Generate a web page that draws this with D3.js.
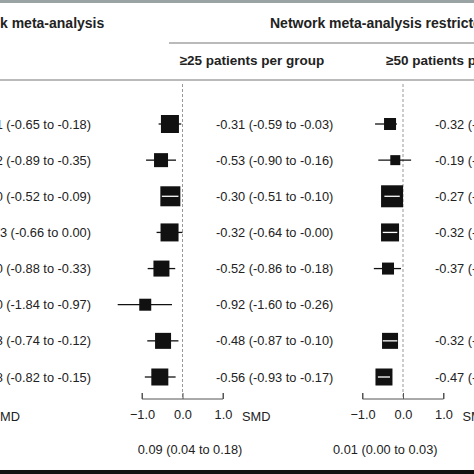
<!DOCTYPE html>
<html><head><meta charset="utf-8">
<script src="https://cdn.jsdelivr.net/npm/d3@7"></script>
<style>body{margin:0;background:#fff}text{font-family:"Liberation Sans",Arial,sans-serif;fill:#222}</style>
</head><body><svg></svg>
<script>
// data
const baseText = ["-0.41 (-0.65 to -0.18)", "-0.62 (-0.89 to -0.35)", "-0.30 (-0.52 to -0.09)", "-0.33 (-0.66 to 0.00)",
  "-0.60 (-0.88 to -0.33)", "-1.40 (-1.84 to -0.97)", "-0.43 (-0.74 to -0.12)", "-0.48 (-0.82 to -0.15)"];
const p25Est = [-0.31, -0.53, -0.30, -0.32, -0.52, -0.92, -0.48, -0.56];
const p25Lo = [-0.59, -0.90, -0.51, -0.64, -0.86, -1.60, -0.87, -0.93];
const p25Hi = [-0.03, -0.16, -0.10, -0.00, -0.18, -0.26, -0.10, -0.17];
const p25Size = [18, 14, 20, 18, 16, 12, 16, 17];
const p50Est = [-0.32, -0.19, -0.27, -0.32, -0.37, null, -0.32, -0.47];
const p50Lo = [-0.69, -0.61, -0.46, -0.50, -0.72, null, -0.50, -0.62];
const p50Hi = [-0.15, 0.20, -0.08, -0.14, -0.05, null, -0.14, -0.32];
const p50Size = [12, 10, 22, 18, 12, 0, 16, 17];
const axisTicks = [-1, 0, 1];
const tau = ["0.09 (0.04 to 0.18)", "0.01 (0.00 to 0.03)"];

const svg = d3.select("svg").attr("width", 474).attr("height", 474);
const fmt = v => (v === 0 ? "0.0" : d3.format(".1f")(v));
const fs = "12.8px";

svg.append("rect").attr("width", 474).attr("height", 3).attr("fill", "#9aa3a3");
svg.append("rect").attr("y", 470).attr("width", 474).attr("height", 4).attr("fill", "#111");

svg.append("text").attr("x", 0).attr("y", 28).style("font-weight", "bold").style("font-size", "14px").text("k meta-analysis");
svg.append("text").attr("x", 270).attr("y", 28).style("font-weight", "bold").style("font-size", "14px").text("Network meta-analysis restricted to trials");
svg.append("line").attr("x1", 169).attr("x2", 474).attr("y1", 43).attr("y2", 43).attr("stroke", "#777").attr("stroke-width", 1.2);
svg.append("line").attr("x1", 0).attr("x2", 474).attr("y1", 80).attr("y2", 80).attr("stroke", "#777").attr("stroke-width", 1.2);
svg.append("text").attr("x", 252).attr("y", 65).attr("text-anchor", "middle").style("font-weight", "bold").style("font-size", "13.5px").text("≥25 patients per group");
svg.append("text").attr("x", 386).attr("y", 65).style("font-weight", "bold").style("font-size", "13.5px").text("≥50 patients per group");

const y = d3.scaleLinear().domain([0, 7]).range([124, 377]);
const axisY = 399;

svg.selectAll(".base").data(baseText).enter().append("text")
  .attr("x", 91).attr("y", (d, i) => y(i) + 4.5).attr("text-anchor", "end").style("font-size", fs).text(d => d);
svg.append("text").attr("x", 20).attr("y", 421).attr("text-anchor", "end").style("font-size", fs).text("SMD");

function panel(x0, est, lo, hi, size, labelX, labels) {
  const x = d3.scaleLinear().domain([-1, 1]).range([x0 - 40.5, x0 + 40.5]);
  svg.append("line").attr("x1", x(0)).attr("x2", x(0)).attr("y1", 84).attr("y2", axisY)
    .attr("stroke", "#999").attr("stroke-dasharray", "3,2");
  const g = svg.append("g").attr("transform", `translate(0,${axisY})`)
    .call(d3.axisBottom(x).tickValues(axisTicks).tickSize(-6).tickFormat(fmt));
  g.select(".domain").attr("stroke", "#555").attr("d", `M${x(-1)},-6V0H${x(1)}V-6`);
  g.selectAll(".tick line").attr("stroke", "#555");
  g.selectAll(".tick text").attr("dy", "1.35em").style("font-size", fs).style("fill", "#222")
    .style("font-family", "Liberation Sans, Arial, sans-serif");
  svg.append("text").attr("x", x(1) + 19).attr("y", 421).style("font-size", fs).text("SMD");
  est.forEach((e, i) => {
    if (e === null) return;
    svg.append("line").attr("x1", x(lo[i])).attr("x2", x(hi[i])).attr("y1", y(i)).attr("y2", y(i)).attr("stroke", "#111").attr("stroke-width", 1.3);
    svg.append("rect").attr("x", x(e) - size[i] / 2).attr("y", y(i) - size[i] / 2).attr("width", size[i]).attr("height", size[i]).attr("fill", "#111");
    if (x(hi[i]) - x(lo[i]) < size[i]) {
      svg.append("line").attr("x1", x(lo[i])).attr("x2", x(hi[i])).attr("y1", y(i)).attr("y2", y(i)).attr("stroke", "#fff").attr("stroke-width", 1.3);
    }
  });
  svg.selectAll(null).data(labels).enter().append("text")
    .attr("x", labelX).attr("y", (d, i) => y(i) + 4.5).style("font-size", fs).text(d => d);
}

const lab25 = p25Est.map((e, i) => `${e.toFixed(2)} (${p25Lo[i].toFixed(2)} to ${p25Hi[i] === 0 ? "-0.00" : p25Hi[i].toFixed(2)})`);
const lab50 = p50Est.map((e, i) => e === null ? "" : `${e.toFixed(2)} (${p50Lo[i].toFixed(2)} to ${p50Hi[i].toFixed(2)})`);
panel(182.5, p25Est, p25Lo, p25Hi, p25Size, 216, lab25);
panel(403, p50Est, p50Lo, p50Hi, p50Size, 435, lab50);

svg.append("text").attr("x", 190).attr("y", 454).attr("text-anchor", "middle").style("font-size", fs).text(tau[0]);
svg.append("text").attr("x", 333).attr("y", 454).style("font-size", fs).text(tau[1]);
</script></body></html>
